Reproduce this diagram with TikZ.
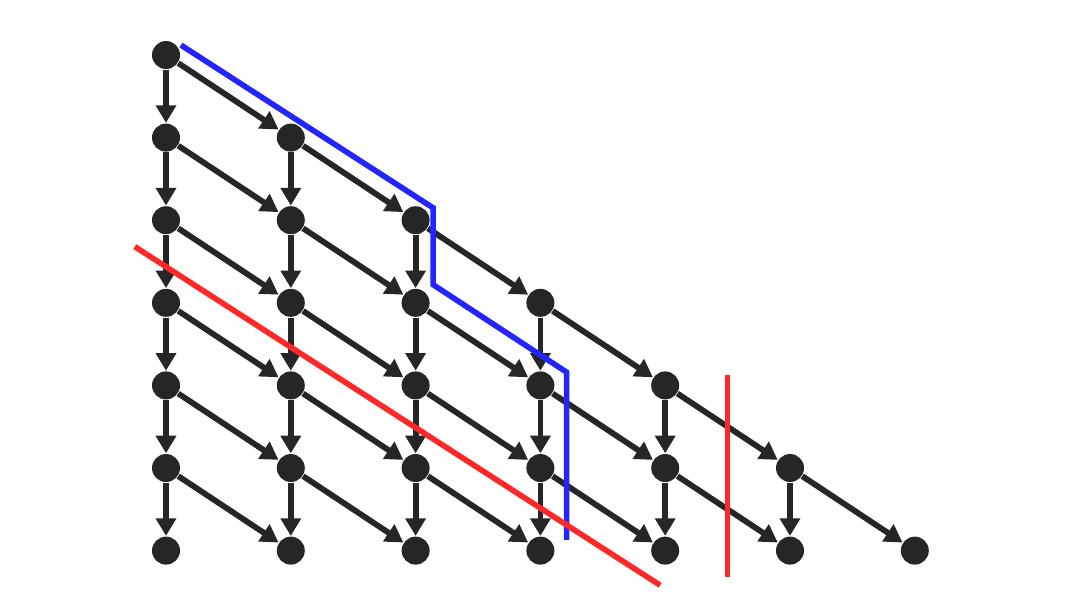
\documentclass[tikz,border=0pt]{standalone}
\usepackage{tikz}
\usetikzlibrary{arrows.meta}
\definecolor{nodegray}{HTML}{262626}
\definecolor{cutblue}{HTML}{2424FF}
\definecolor{cutred}{HTML}{FF2828}
\begin{document}
\begin{tikzpicture}[x=1.248cm, y=-0.826cm,
    vert/.style={circle, fill=nodegray, inner sep=0pt, minimum size=0.28cm},
    edge/.style={-{Triangle[length=5pt,width=5.6pt]}, line width=1.65pt, draw=nodegray, fill=nodegray},
    cut/.style={line width=1.6pt}]
    \useasboundingbox (-1.66cm,0.55cm) rectangle (9.16cm,-5.47cm);
    % Vertices
    \foreach \i in {0,...,6}
      \foreach \j in {\i,...,6}
        \node[vert] (n-\i-\j) at (\i,\j) {};
    % Edges
    \foreach \i in {0,...,5}
      \foreach \j in {\i,...,5} {
        \pgfmathtruncatemacro{\ni}{\i+1}
        \pgfmathtruncatemacro{\nj}{\j+1}
        \draw[edge] (n-\i-\j) -- (n-\i-\nj);
        \draw[edge] (n-\i-\j) -- (n-\ni-\nj);
      }
    % Blue cut
    \draw[cut, cutblue] (0.12,-0.12) -- (2.14,1.85) -- (2.14,2.78)
      -- (3.21,3.84) -- (3.21,5.87);
    % Red cuts
    \draw[cut, cutred] (-0.25,2.32) -- (3.96,6.42);
    \draw[cut, cutred] (4.50,3.87) -- (4.50,6.32);
\end{tikzpicture}
\end{document}
